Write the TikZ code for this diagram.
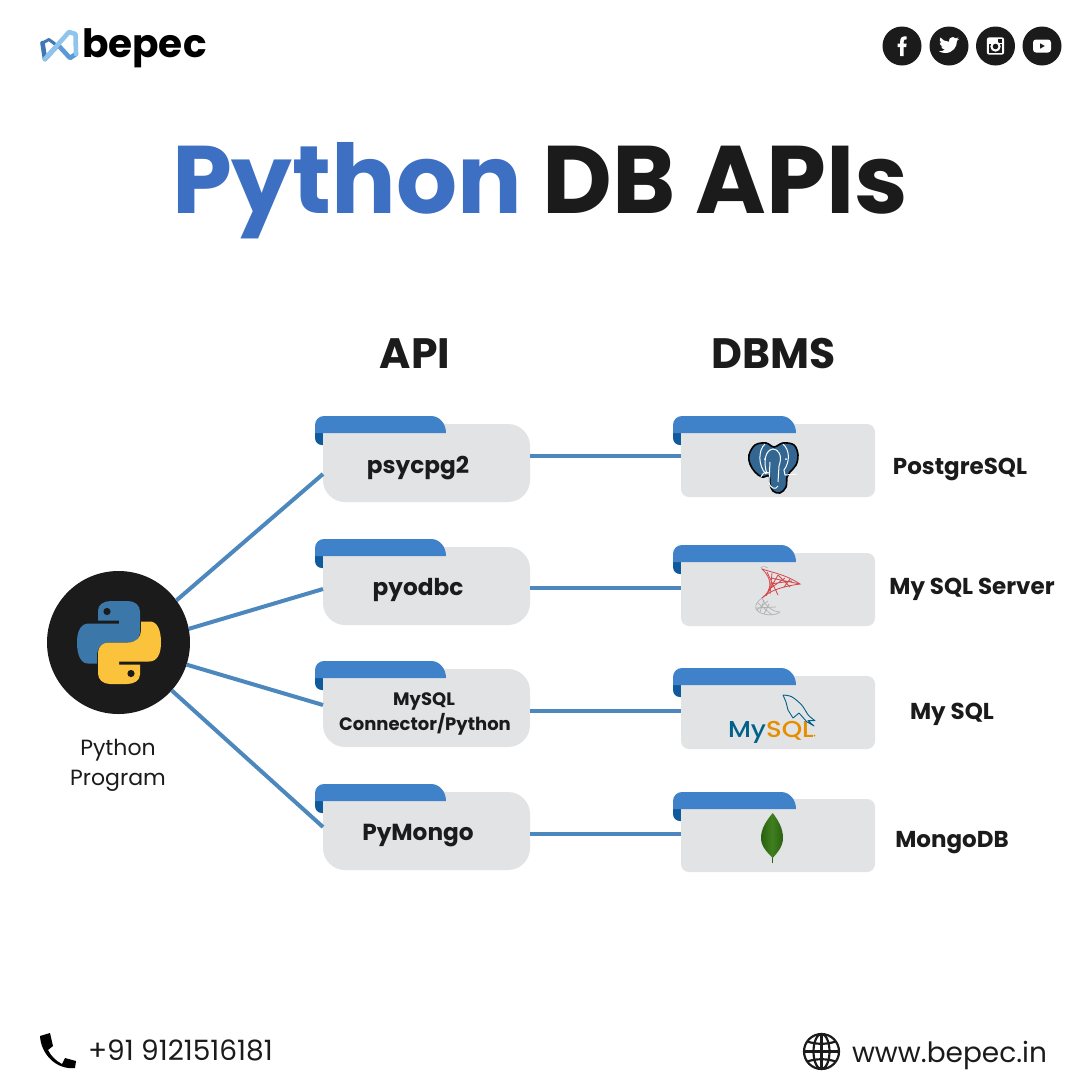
\documentclass[tikz,border=0pt]{standalone}
\usepackage{fontspec}
\usepackage{graphicx}
\setmainfont{Poppins}[BoldFont=Poppins-Bold]
\newfontfamily\pmed{Poppins Medium}
\usetikzlibrary{calc}
\definecolor{tabblue}{HTML}{3F82C9}
\definecolor{tabdark}{HTML}{0F5A9C}
\definecolor{cardgray}{HTML}{E2E3E5}
\definecolor{linkblue}{HTML}{4C87BD}
\definecolor{ink}{HTML}{1B1B1B}
\definecolor{titleblue}{HTML}{3D6FC2}
\definecolor{pgblue}{HTML}{336791}
\definecolor{pyblue}{HTML}{3B77A9}
\definecolor{pyyellow}{HTML}{FBC23C}
\definecolor{myblue}{HTML}{00618A}
\definecolor{myorange}{HTML}{E48E00}
\definecolor{leafdark}{HTML}{2A6012}
\definecolor{leaflight}{HTML}{3F7F1E}
\definecolor{sqlred}{HTML}{D4474A}
\definecolor{logodark}{HTML}{3F78B5}
\definecolor{logomid}{HTML}{5A9AD6}
\definecolor{logolight}{HTML}{8FC4EC}
\tikzset{
  txt/.style={inner sep=0pt,outer sep=0pt,anchor=base,text=ink},
  cardlabel/.style={txt,font=\bfseries\fontsize{23.2}{23.2}\selectfont},
  dblabel/.style={txt,font=\bfseries\fontsize{23}{23}\selectfont},
  heading/.style={txt,font=\bfseries\fontsize{42.5}{42.5}\selectfont},
  apicard/.style={fill=cardgray,rounded corners=22pt,minimum width=207pt,minimum height=78pt,inner sep=0pt,outer sep=0pt},
  dbcard/.style={fill=cardgray,rounded corners=8pt,minimum width=194pt,minimum height=73pt,inner sep=0pt,outer sep=0pt},
  link/.style={draw=linkblue,line width=4pt},
  socialdot/.style={circle,fill=ink,minimum size=39pt,inner sep=0pt,outer sep=0pt},
}
\newcommand\tabunder[2]{\fill[tabdark,rounded corners=7pt] (#1,#2+6) rectangle (#1+22,#2+29);}
\newcommand\tabover[3]{%
  \fill[cardgray] (#1+8,#2+17) rectangle (#1+30,#2+36);
  \fill[tabblue] (#1,#2+17) -- (#1,#2+9) arc[start angle=180,end angle=90,x radius=9,y radius=-9]
    -- (#1+#3-15,#2) .. controls (#1+#3-6,#2) and (#1+#3,#2+8) .. (#1+#3,#2+17) -- cycle;}
\begin{document}
\begin{tikzpicture}[x=1pt,y=-1pt]
\useasboundingbox (0,0) rectangle (1080,1080);
\fill[white] (0,0) rectangle (1080,1080);

% logo
\draw[line width=4.6pt,color=logodark,line join=round,line cap=round] (42.5,43) -- (45,59);
\draw[line width=3pt,color=logodark,line join=round,line cap=round] (42.5,43) -- (49,39.5) -- (55,44);
\draw[line width=4.6pt,color=logomid,line join=round,line cap=round] (45,59) -- (58,45) -- (70,58) -- (76,54);
\draw[line width=4.6pt,color=logolight,line join=round,line cap=round] (45,59) -- (69,32) -- (75.5,34) -- (76,54);
\node[txt,anchor=base west,font=\bfseries\fontsize{39}{39}\selectfont,text=black] (brand) at (82,57) {bepec};

% social
\node[socialdot] (s1) at (902,46) {};
\node[socialdot] (s2) at (949,46) {};
\node[socialdot] (s3) at (995.5,46) {};
\node[socialdot] (s4) at (1042,46) {};
\begin{scope}[shift={(902,46)}]
\fill[white] (-1.8,10) -- (-1.8,1) -- (-4.5,1) -- (-4.5,-2.4) -- (-1.8,-2.4) -- (-1.8,-5) .. controls (-1.8,-8.5) and (0.5,-10) .. (4.6,-9.6) -- (4.6,-6.6) .. controls (2.4,-6.8) and (1.7,-6.2) .. (1.7,-4.6) -- (1.7,-2.4) -- (4.6,-2.4) -- (4.2,1) -- (1.7,1) -- (1.7,10) -- cycle;
\end{scope}
\begin{scope}[shift={(949,46)}]
\fill[white] (10,-7) .. controls (9.3,-6.7) and (8.5,-6.4) .. (7.7,-6.3) .. controls (8.6,-6.8) and (9.2,-7.6) .. (9.5,-8.6) .. controls (8.7,-8.1) and (7.8,-7.8) .. (6.9,-7.6) .. controls (6.1,-8.4) and (5,-9) .. (3.8,-9) .. controls (1.2,-9) and (-0.7,-6.7) .. (-0.1,-4.2) .. controls (-3.6,-4.4) and (-6.6,-6) .. (-8.7,-8.5) .. controls (-9.8,-6.6) and (-9.3,-4.2) .. (-7.4,-3) .. controls (-8.1,-3) and (-8.7,-3.2) .. (-9.3,-3.5) .. controls (-9.3,-1.6) and (-8,.2) .. (-6,.6) .. controls (-6.6,.8) and (-7.2,.8) .. (-7.8,.7) .. controls (-7.3,2.3) and (-5.8,3.5) .. (-4,3.5) .. controls (-5.7,4.9) and (-7.9,5.4) .. (-10,5.2) .. controls (-8.2,6.4) and (-6,7) .. (-3.7,7) .. controls (3.9,7) and (8.2,.6) .. (7.9,-5) .. controls (8.7,-5.5) and (9.4,-6.2) .. (10,-7) -- cycle;
\end{scope}
\begin{scope}[shift={(995.5,46)}]
\fill[white,rounded corners=2.5pt] (-8.7,-8.7) rectangle (8.7,8.7);
\fill[ink] (-6.5,-2) rectangle (6.5,6.5);
\fill[ink] (2.2,-6.8) rectangle (6.8,-2.8);
\fill[white] (0,0.5) circle (5.2);
\fill[ink] (0,0.5) circle (2.8);
\end{scope}
\begin{scope}[shift={(1042,46)}]
\fill[white,rounded corners=3pt] (-9,-6.5) rectangle (9,6.5);
\fill[ink] (-1.8,-2.6) -- (2.8,0) -- (-1.8,2.6) -- cycle;
\end{scope}

% title
\node[txt,anchor=base west,font=\bfseries\fontsize{96}{96}\selectfont] (title) at (172,213) {\textcolor{titleblue}{Python} \textcolor{ink}{DB APIs}};

% headings
\node[heading] (hapi) at (415,368) {API};
\node[heading] (hdb) at (774,368) {DBMS};

% cards: under-tabs first
\tabunder{315}{416}\tabunder{315}{539}\tabunder{315}{661}\tabunder{315}{784}
\tabunder{673}{416}\tabunder{673}{545}\tabunder{673}{668}\tabunder{673}{792}

\node[circle,fill=ink,minimum size=143pt,inner sep=0pt,outer sep=0pt] (py) at (118.5,642.5) {};

\node[apicard] (a1) at (426.5,463) {};
\node[apicard] (a2) at (426.5,586) {};
\node[apicard] (a3) at (426.5,708) {};
\node[apicard] (a4) at (426.5,831) {};
\node[dbcard] (d1) at (778,460.5) {};
\node[dbcard] (d2) at (778,589.5) {};
\node[dbcard] (d3) at (778,712.5) {};
\node[dbcard] (d4) at (778,835.5) {};

\tabover{315}{416}{131}\tabover{315}{539}{131}\tabover{315}{661}{131}\tabover{315}{784}{131}
\tabover{673}{416}{123}\tabover{673}{545}{123}\tabover{673}{668}{123}\tabover{673}{792}{123}

% connectors
\draw[link] (py.36) -- ([yshift=-11pt]a1.west);
\draw[link] (py.11) -- ([yshift=-3pt]a2.west);
\draw[link] (py.-18) -- ([yshift=3pt]a3.west);
\draw[link] (py.-42) -- ([yshift=4pt]a4.west);
\draw[link] ([yshift=7pt]a1.east) -- ([yshift=4.5pt]d1.west);
\draw[link] ([yshift=-2pt]a2.east) -- ([yshift=1.5pt]d2.west);
\draw[link] ([yshift=-3pt]a3.east) -- ([yshift=1.5pt]d3.west);
\draw[link] ([yshift=-3pt]a4.east) -- ([yshift=1.5pt]d4.west);

% python logo
\begin{scope}[shift={(119,642.5)}]
\def\pyshape{(-21,-22) -- (-21,-32) .. controls (-21,-38) and (-15,-41.5) .. (-8,-41.5) -- (9,-41.5) .. controls (16,-41.5) and (21,-37) .. (21,-31) -- (21,-10) .. controls (21,-4) and (16,0) .. (10,0) -- (-9,0) .. controls (-17,0) and (-22,5) .. (-22,12) -- (-22,21) -- (-31,21) .. controls (-38,21) and (-42,13) .. (-42,0) .. controls (-42,-12) and (-38,-19) .. (-30,-19) -- (0,-19) -- (0,-22) -- cycle}
\fill[pyblue] \pyshape;
\fill[ink] (-12,-31) circle (3.6);
\begin{scope}[rotate=180]
\fill[pyyellow] \pyshape;
\fill[ink] (-12,-31) circle (3.6);
\end{scope}
\end{scope}
\node[txt,font=\fontsize{22}{22}\selectfont] (pl1) at (118,755) {Python};
\node[txt,font=\fontsize{22}{22}\selectfont] (pl2) at (118,785) {Program};

% api labels
\node[cardlabel] (l1) at (418,473) {psycpg2};
\node[cardlabel] (l2) at (418,595) {pyodbc};
\node[txt,font=\bfseries\fontsize{18}{18}\selectfont] (l3a) at (424,705) {MySQL};
\node[txt,font=\bfseries\fontsize{18}{18}\selectfont] (l3b) at (425,730) {Connector/Python};
\node[cardlabel] (l4) at (418,840) {PyMongo};

% db labels
\node[dblabel] (n1) at (960,474) {PostgreSQL};
\node[dblabel] (n2) at (972,594) {My SQL Server};
\node[dblabel] (n3) at (952,719) {My SQL};
\node[dblabel] (n4) at (952,847) {MongoDB};

% elephant
\draw[fill=pgblue,draw=black,line width=1.6pt,line join=round] plot[smooth cycle,tension=0.6] coordinates {(749,455) (755,445) (766,443) (774,447) (783,443) (794,445) (798,455) (796,465) (790,472) (787,477) (786,487) (780,493) (773,491) (770,484) (769,476) (762,477) (755,472) (750,464)};
\draw[white,line width=1pt] (765,444) .. controls (758,450) and (758,466) .. (766,474);
\draw[white,line width=1pt] (767,474) .. controls (763,462) and (765,450) .. (773,449) .. controls (778,449) and (783,455) .. (779,466) -- (778,482);
\draw[white,line width=1pt] (770,462) -- (769,482) .. controls (770,489) and (776,490) .. (778,486);
\draw[white,line width=1pt] (783,444) .. controls (790,450) and (790,462) .. (784,470) -- (785,475) -- (797,474);
\draw[white,line width=1pt] (761,477) .. controls (764,471) and (766,472) .. (769,473);
\fill[white] (765,459) circle (1);
\fill[white] (786,459) circle (1);

% sql server
\begin{scope}[line width=0.8pt,draw=sqlred]
\draw (762,569) .. controls (770,572) and (785,574) .. (800,584) .. controls (785,586) and (770,590) .. (762,598);
\draw (762,569) .. controls (772,578) and (773,590) .. (762,598);
\draw (767,572) -- (778,595) (772,573) -- (770,594) (778,575) -- (766,596) (785,578) -- (768,590) (792,581) -- (770,584) (800,584) -- (771,578) (790,579) -- (784,587) (778,575) -- (790,587);
\end{scope}
\begin{scope}[line width=0.7pt,draw=black!30]
\draw (762,598) .. controls (752,605) and (755,612) .. (764,614) .. controls (772,616) and (778,614) .. (780,612);
\draw (762,598) .. controls (765,605) and (772,612) .. (780,612);
\draw (758,603) -- (772,615) (764,600) -- (760,612) (769,604) -- (764,614) (755,608) -- (776,607) (757,610) -- (768,601);
\draw (762,569) .. controls (759,567) and (764,565) .. (768,568);
\end{scope}

% mysql
\node[txt,anchor=base west,font=\pmed\fontsize{23}{23}\selectfont] (mytxt) at (728,737) {\scalebox{1.13}[1]{\textcolor{myblue}{My}\textcolor{myorange}{SQL}}};
\fill[myorange] (814.5,735.5) circle (1);
\draw[draw=myblue,line width=0.9pt,line join=round] plot[smooth,tension=0.5] coordinates {(783,695) (791.7,696.7) (801.7,705) (808.3,715) (815,720.7)} -- (808,720.5) -- (814,726) -- (806.7,721.7) -- (799,713) (799,713) -- (793,718) -- (788,710) -- (786,702) -- (783,695);

% leaf
\fill[leafdark] (772.2,856) rectangle (773.2,863);
\shade[left color=leafdark,right color=leafdark,middle color=leaflight] (772.7,813) .. controls (778,820) and (783,828) .. (783,838) .. controls (783,847) and (777,853) .. (772.7,858) .. controls (768,853) and (761,847) .. (761,838) .. controls (761,828) and (767,820) .. (772.7,813) -- cycle;

% footer
\fill[black] (40,1036) -- (50,1033) -- (53,1046) -- (48,1050) .. controls (51,1056) and (56,1061) .. (62,1064) -- (65,1058) -- (76,1061) -- (75,1068) .. controls (56,1070) and (41,1054) .. (40,1036) -- cycle;
\node[txt,anchor=base west,font=\fontsize{28}{28}\selectfont] (phone) at (88,1060) {+91 9121516181};
\begin{scope}[shift={(821.5,1051.5)},draw=ink,line width=2.2pt]
\draw (0,0) circle (17.5);
\draw (0,0) ellipse (8 and 17.5);
\draw (0,-17.5) -- (0,17.5) (-17.5,0) -- (17.5,0);
\draw (-14,-10) .. controls (-6,-7) and (6,-7) .. (14,-10);
\draw (-14,10) .. controls (-6,7) and (6,7) .. (14,10);
\end{scope}
\node[txt,anchor=base west,font=\fontsize{28}{28}\selectfont] (web) at (852,1062) {www.bepec.in};
\end{tikzpicture}
\end{document}
